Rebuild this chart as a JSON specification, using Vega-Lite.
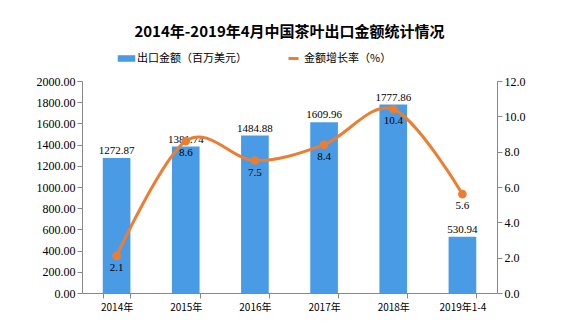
{
  "$schema": "https://vega.github.io/schema/vega-lite/v6.json",
  "width": 415,
  "height": 212,
  "padding": {"left": 36, "top": 25, "right": 5, "bottom": 5},
  "background": "white",
  "title": {
    "text": "2014年-2019年4月中国茶叶出口金额统计情况",
    "font": "Noto Sans CJK SC",
    "fontSize": 15,
    "fontWeight": "bold",
    "color": "#000000",
    "offset": 12
  },
  "data": {
    "values": [
      {"year": "2014年", "amount": 1272.87, "rate": 2.1},
      {"year": "2015年", "amount": 1381.74, "rate": 8.6},
      {"year": "2016年", "amount": 1484.88, "rate": 7.5},
      {"year": "2017年", "amount": 1609.96, "rate": 8.4},
      {"year": "2018年", "amount": 1777.86, "rate": 10.4},
      {"year": "2019年1-4", "amount": 530.94, "rate": 5.6}
    ]
  },
  "transform": [
    {"calculate": "'出口金额（百万美元）'", "as": "s1"},
    {"calculate": "'金额增长率（%）'", "as": "s2"}
  ],
  "encoding": {
    "x": {
      "field": "year",
      "type": "nominal",
      "sort": null,
      "scale": {"paddingInner": 0.6, "paddingOuter": 0.3},
      "axis": {
        "title": null,
        "labelAngle": 0,
        "labelFont": "Noto Sans CJK SC",
        "labelFontSize": 10,
        "labelColor": "#000000",
        "domainColor": "#888888",
        "tickColor": "#888888",
        "tickBand": "extent",
        "labelPadding": 4
      }
    }
  },
  "layer": [
    {
      "mark": {"type": "bar", "color": "#4a9be6"},
      "encoding": {
        "y": {
          "field": "amount",
          "type": "quantitative",
          "scale": {"domain": [0, 2000]},
          "axis": {
            "title": null,
            "values": [0,200,400,600,800,1000,1200,1400,1600,1800,2000],
            "format": ".2f",
            "labelOverlap": false,
            "grid": false,
            "labelFont": "Liberation Serif",
            "labelFontSize": 12,
            "labelColor": "#000000",
            "domainColor": "#888888",
            "tickColor": "#888888"
          }
        },
        "fill": {
          "field": "s1",
          "type": "nominal",
          "scale": {"range": ["#4a9be6"]},
          "legend": {
            "title": null,
            "orient": "none",
            "legendX": 38,
            "legendY": -29,
            "symbolType": "M-1.6,-0.6H1.6V0.6H-1.6Z",
            "symbolSize": 120,
            "labelFont": "Noto Sans CJK SC",
            "labelFontSize": 11,
            "labelColor": "#000000"
          }
        }
      }
    },
    {
      "mark": {"type": "text", "dy": -7, "font": "Liberation Serif", "fontSize": 11, "color": "#000000"},
      "encoding": {
        "y": {"field": "amount", "type": "quantitative", "scale": {"domain": [0, 2000]}, "axis": null},
        "text": {"field": "amount", "type": "quantitative", "format": ".2f"}
      }
    },
    {
      "mark": {"type": "line", "color": "#ed7d31", "strokeWidth": 3, "interpolate": "cardinal", "point": {"filled": true, "size": 45, "color": "#ed7d31"}},
      "encoding": {
        "y": {
          "field": "rate",
          "type": "quantitative",
          "scale": {"domain": [0, 12]},
          "axis": {
            "title": null,
            "orient": "right",
            "values": [0,2,4,6,8,10,12],
            "format": ".1f",
            "labelOverlap": false,
            "grid": false,
            "labelFont": "Liberation Serif",
            "labelFontSize": 12,
            "labelColor": "#000000",
            "domainColor": "#888888",
            "tickColor": "#888888"
          }
        },
        "stroke": {
          "field": "s2",
          "type": "nominal",
          "scale": {"range": ["#ed7d31"]},
          "legend": {
            "title": null,
            "orient": "none",
            "legendX": 205,
            "legendY": -29,
            "symbolType": "stroke",
            "symbolStrokeWidth": 3,
            "labelFont": "Noto Sans CJK SC",
            "labelFontSize": 11,
            "labelColor": "#000000"
          }
        }
      }
    },
    {
      "mark": {"type": "text", "dy": 12, "font": "Liberation Serif", "fontSize": 11, "color": "#000000"},
      "encoding": {
        "y": {"field": "rate", "type": "quantitative", "scale": {"domain": [0, 12]}, "axis": null},
        "text": {"field": "rate", "type": "quantitative", "format": ".1f"}
      }
    }
  ],
  "resolve": {"scale": {"y": "independent", "fill": "independent", "stroke": "independent"}},
  "config": {"view": {"stroke": null}, "legend": {"direction": "horizontal"}}
}
